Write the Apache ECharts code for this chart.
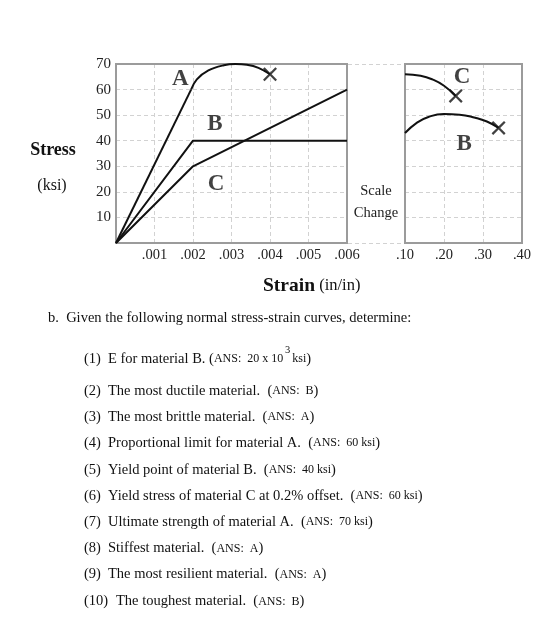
<!DOCTYPE html>
<html><head><meta charset="utf-8">
<script src="https://cdn.jsdelivr.net/npm/echarts@6/dist/echarts.min.js"></script>
<style>html,body{margin:0;padding:0;background:#fff}#c{width:548px;height:639px}</style>
</head><body><div id="c"></div>
<script>
// ---- data ----
const stressTicks = [0, 10, 20, 30, 40, 50, 60, 70];
const smallStrainTicks = ['', '.001', '.002', '.003', '.004', '.005', '.006'];
const largeStrainTicks = ['.10', '.20', '.30', '.40'];

const aElasticStrain = [0, 0.00195];
const aElasticStress = [0, 60];
const aPlasticStrain = [0.00195, 0.0021, 0.0024, 0.0028, 0.0031, 0.0034, 0.0037, 0.004];
const aPlasticStress = [60, 64, 67.5, 69.5, 70, 69.7, 68.5, 66];
const bSmallStrain = [0, 0.002, 0.006];
const bSmallStress = [0, 40, 40];
const cSmallStrain = [0, 0.002, 0.006];
const cSmallStress = [0, 30, 60];
const cLargeStrain = [0.10, 0.14, 0.17, 0.20, 0.23];
const cLargeStress = [66, 65.4, 64, 61.5, 57.5];
const bLargeStrain = [0.10, 0.13, 0.16, 0.20, 0.24, 0.28, 0.31, 0.34];
const bLargeStress = [43, 47, 49.3, 50.4, 50.2, 49, 47.5, 45];
const fractures = [{ s: 0.004, v: 66, g: 0 }, { s: 0.23, v: 57.5, g: 1 }, { s: 0.34, v: 45, g: 1 }];
const curveLabels = [
  { name: 'A', s: 0.00167, v: 64, g: 0 },
  { name: 'B', s: 0.00257, v: 46.5, g: 0 },
  { name: 'C', s: 0.0026, v: 23, g: 0 },
  { name: 'C', s: 0.2465, v: 65, g: 1 },
  { name: 'B', s: 0.2517, v: 38.8, g: 1 }
];
const questions = [
  ['(1)', 'E for material B. ', '20 x 10', 'ksi'],
  ['(2)', 'The most ductile material.  ', 'B', ''],
  ['(3)', 'The most brittle material.  ', 'A', ''],
  ['(4)', 'Proportional limit for material A.  ', '60 ksi', ''],
  ['(5)', 'Yield point of material B.  ', '40 ksi', ''],
  ['(6)', 'Yield stress of material C at 0.2% offset.  ', '60 ksi', ''],
  ['(7)', 'Ultimate strength of material A.  ', '70 ksi', ''],
  ['(8)', 'Stiffest material.  ', 'A', ''],
  ['(9)', 'The most resilient material.  ', 'A', ''],
  ['(10)', 'The toughest material.  ', 'B', '']
];
const questionY = [359, 391, 417, 443, 470, 496, 522, 548.5, 574.5, 601.5];

// ---- chart ----
const serif = '"Liberation Serif", "DejaVu Serif", serif';
const zip = (xs, ys) => xs.map((x, i) => [x, ys[i]]);
const gridLine = { show: true, lineStyle: { color: '#d2d2d2', type: [4, 3], width: 1 } };
const xPath = 'path://M0,1.6L1.6,0L7,5.4L12.4,0L14,1.6L8.6,7L14,12.4L12.4,14L7,8.6L1.6,14L0,12.4L5.4,7Z';

const lineS = (data, xi, smooth) => ({
  type: 'line', xAxisIndex: xi, yAxisIndex: xi, data, smooth: smooth || false,
  showSymbol: false, symbol: 'none', lineStyle: { color: '#111', width: 2 }, z: 5, silent: true
});

const option = {
  backgroundColor: '#fff',
  animation: false,
  grid: [
    { left: 116, top: 64, width: 231, height: 179, show: true, borderColor: '#9b9b9b', borderWidth: 2, z: 3 },
    { left: 405, top: 64, width: 117, height: 179, show: true, borderColor: '#9b9b9b', borderWidth: 2, z: 3 },
    { left: 348, top: 64, width: 56, height: 179 }
  ],
  xAxis: [
    { gridIndex: 0, type: 'value', min: 0, max: 0.006, interval: 0.001,
      axisLine: { show: false }, axisTick: { show: false }, splitLine: gridLine,
      axisLabel: { color: '#222', fontFamily: serif, fontSize: 14.5, margin: 5,
        formatter: (v) => smallStrainTicks[Math.round(v / 0.001)] } },
    { gridIndex: 1, type: 'value', min: 0.1, max: 0.4, interval: 0.1,
      axisLine: { show: false }, axisTick: { show: false }, splitLine: gridLine,
      axisLabel: { color: '#222', fontFamily: serif, fontSize: 14.5, margin: 5, showMinLabel: true, showMaxLabel: true,
        formatter: (v) => largeStrainTicks[Math.round(v / 0.1) - 1] } },
    { gridIndex: 2, type: 'value', min: 0, max: 1, show: false }
  ],
  yAxis: [
    { gridIndex: 0, type: 'value', min: 0, max: 70, interval: 10,
      axisLine: { show: false }, axisTick: { show: false }, splitLine: gridLine,
      axisLabel: { color: '#222', fontFamily: serif, fontSize: 15, margin: 5,
        formatter: (v) => (v === 0 ? '' : String(stressTicks[v / 10])) } },
    { gridIndex: 1, type: 'value', min: 0, max: 70, interval: 10,
      axisLine: { show: false }, axisTick: { show: false }, splitLine: gridLine, axisLabel: { show: false } },
    { gridIndex: 2, type: 'value', min: 0, max: 70, interval: 70,
      axisLine: { show: false }, axisTick: { show: false }, splitLine: gridLine, axisLabel: { show: false } }
  ],
  series: [
    lineS(zip(aElasticStrain, aElasticStress), 0),
    lineS(zip(aPlasticStrain, aPlasticStress), 0, 0.4),
    lineS(zip(bSmallStrain, bSmallStress), 0),
    lineS(zip(cSmallStrain, cSmallStress), 0),
    lineS(zip(cLargeStrain, cLargeStress), 1, 0.5),
    lineS(zip(bLargeStrain, bLargeStress), 1, 0.5),
    ...[0, 1].map((g) => ({
      type: 'scatter', xAxisIndex: g, yAxisIndex: g, symbol: xPath, symbolSize: 14, z: 6, silent: true,
      itemStyle: { color: '#111' },
      data: fractures.filter((f) => f.g === g).map((f) => [f.s, f.v])
    })),
    ...[0, 1].map((g) => ({
      type: 'scatter', xAxisIndex: g, yAxisIndex: g, symbolSize: 0, z: 7, silent: true,
      label: { show: true, position: 'inside', formatter: (p) => p.name, color: '#111',
        fontFamily: serif, fontWeight: 'bold', fontSize: 23 },
      data: curveLabels.filter((l) => l.g === g).map((l) => ({ name: l.name, value: [l.s, l.v] }))
    }))
  ],
  graphic: [
    { type: 'text', x: 53, y: 150, style: { text: 'Stress', font: 'bold 18px ' + serif, fill: '#111', align: 'center', verticalAlign: 'middle' } },
    { type: 'text', x: 52, y: 186, style: { text: '(ksi)', font: '16px ' + serif, fill: '#111', align: 'center', verticalAlign: 'middle' } },
    { type: 'text', x: 376, y: 191, style: { text: 'Scale', font: '14.5px ' + serif, fill: '#222', align: 'center', verticalAlign: 'middle' } },
    { type: 'text', x: 376, y: 213, style: { text: 'Change', font: '14.5px ' + serif, fill: '#222', align: 'center', verticalAlign: 'middle' } },
    { type: 'text', x: 263, y: 286, style: {
      text: '{b|Strain}{n| (in/in)}', align: 'left', verticalAlign: 'middle',
      rich: { b: { font: 'bold 19.5px ' + serif, fill: '#111' }, n: { font: '16.5px ' + serif, fill: '#111' } } } },
    { type: 'text', x: 48, y: 318, style: { text: 'b.  Given the following normal stress-strain curves, determine:',
      font: '14.5px ' + serif, fill: '#111', verticalAlign: 'middle' } },
    ...questions.flatMap((q, i) => [
      { type: 'text', x: 84, y: questionY[i], style: { text: q[0], font: '14.5px ' + serif, fill: '#111', verticalAlign: 'middle' } },
      { type: 'text', x: i === 9 ? 116 : 108, y: questionY[i], style: {
        text: '{m|' + q[1] + '}{p|(}{a|ANS:  ' + q[2] + (q[3] ? '   ' + q[3] : '') + '}{p|)}',
        verticalAlign: 'middle',
        rich: { m: { font: '14.5px ' + serif, fill: '#111' }, p: { font: '14.5px ' + serif, fill: '#111' },
                a: { font: '12px ' + serif, fill: '#111' } } } }
    ]),
    { type: 'text', x: 285, y: 350, style: { text: '3', font: '10.5px ' + serif, fill: '#111', verticalAlign: 'middle' } }
  ]
};
const chart = echarts.init(document.getElementById('c'), null, { renderer: 'canvas' });
chart.setOption(option);
</script></body></html>
